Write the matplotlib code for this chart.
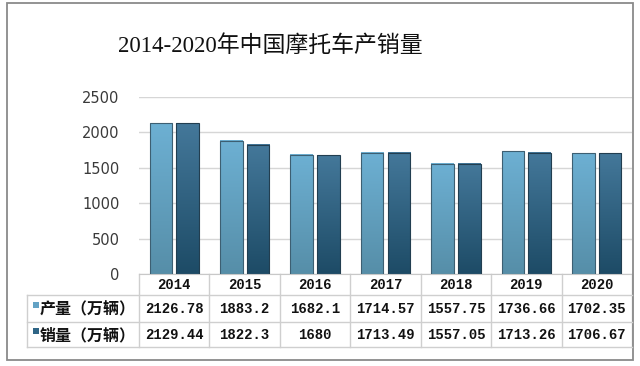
import numpy as np
import matplotlib
matplotlib.use('Agg')
import matplotlib.pyplot as plt
from matplotlib.colors import LinearSegmentedColormap
from matplotlib.patches import Rectangle
import matplotlib.transforms as mtrans

# 数据
years = ['2014', '2015', '2016', '2017', '2018', '2019', '2020']
production = [2126.78, 1883.2, 1682.1, 1714.57, 1557.75, 1736.66, 1702.35]
sales = [2129.44, 1822.3, 1680, 1713.49, 1557.05, 1713.26, 1706.67]
prod_labels = ['2126.78', '1883.2', '1682.1', '1714.57', '1557.75', '1736.66', '1702.35']
sales_labels = ['2129.44', '1822.3', '1680', '1713.49', '1557.05', '1713.26', '1706.67']
row_names = ['产量（万辆）', '销量（万辆）']
yticks = [0, 500, 1000, 1500, 2000, 2500]

W, H = 640, 366
fig = plt.figure(figsize=(W / 100, H / 100), dpi=100)
fig.patch.set_facecolor('white')

def fx(px):
    return px / W

def fy(py):
    return 1 - py / H

# 外框
fig.add_artist(Rectangle((fx(7), fy(360)), fx(626), 357 / H, transform=fig.transFigure,
                         fill=False, edgecolor='#8a8a8a', linewidth=1.3))

fig.text(fx(270), fy(46), '2014-2020年中国摩托车产销量', ha='center', va='center',
         fontsize=16.5, family=['Liberation Serif', 'Noto Sans CJK SC'], color='#111111')

ax = fig.add_axes([fx(139), fy(274), fx(632 - 139), (274 - 97) / H])
ax.set_xlim(-0.5, 6.5)
ax.set_ylim(0, 2500)
ax.set_yticks(yticks)
ax.set_yticklabels([str(t) for t in yticks], fontsize=10.5, color='#3a3a3a',
                   family='DejaVu Sans')
ax.tick_params(axis='y', length=0, pad=14)
ax.tick_params(axis='x', length=0, labelbottom=False)
ax.set_xticks([])
for s in ['left', 'right', 'top']:
    ax.spines[s].set_visible(False)
ax.spines['bottom'].set_color('#c8c8c8')
ax.grid(axis='y', color='#d6d6d6', linewidth=1)
ax.set_axisbelow(True)

light = LinearSegmentedColormap.from_list('light', ['#568ea8', '#6db0d3'])
dark = LinearSegmentedColormap.from_list('dark', ['#1d4b66', '#44789a'])
grad = np.linspace(0, 1, 256).reshape(-1, 1)

x = np.arange(len(years))
bw = 0.32
for xi, v in zip(x - 0.19, production):
    ax.imshow(grad, extent=[xi - bw / 2, xi + bw / 2, 0, v], origin='lower',
              aspect='auto', cmap=light, zorder=2)
    ax.bar(xi, v, bw, facecolor='none', edgecolor='#3d5f72', linewidth=0.8, zorder=3)
for xi, v in zip(x + 0.19, sales):
    ax.imshow(grad, extent=[xi - bw / 2, xi + bw / 2, 0, v], origin='lower',
              aspect='auto', cmap=dark, zorder=2)
    ax.bar(xi, v, bw, facecolor='none', edgecolor='#223e50', linewidth=0.8, zorder=3)
ax.set_xlim(-0.5, 6.5)
ax.set_ylim(0, 2500)

# 数据表
tr = mtrans.blended_transform_factory(ax.transData, fig.transFigure)
lc = '#cfcfcf'
for yy in [295, 322, 347]:
    fig.add_artist(plt.Line2D([fx(27), fx(632)], [fy(yy), fy(yy)], transform=fig.transFigure,
                              color=lc, linewidth=1))
fig.add_artist(plt.Line2D([fx(27), fx(27)], [fy(295), fy(347)], transform=fig.transFigure,
                          color=lc, linewidth=1))
for b in np.arange(-0.5, 7, 1):
    ax.plot([b, b], [fy(274), fy(347)], transform=tr, color=lc, linewidth=1, clip_on=False)

mono = 'Liberation Mono'
for i in range(len(years)):
    ax.text(i, fy(285), years[i], transform=tr, ha='center', va='center',
            fontsize=10, fontweight='bold', family=mono, color='#111111')
    ax.text(i, fy(309), prod_labels[i], transform=tr, ha='center', va='center',
            fontsize=10, fontweight='bold', family=mono, color='#111111')
    ax.text(i, fy(335), sales_labels[i], transform=tr, ha='center', va='center',
            fontsize=10, fontweight='bold', family=mono, color='#111111')

for name, yy, col in [(row_names[0], 309, '#63a2c4'), (row_names[1], 335, '#2f6586')]:
    fig.add_artist(Rectangle((fx(33), fy(yy - 1)), fx(6), 6 / H, transform=fig.transFigure,
                             facecolor=col, edgecolor='none'))
    fig.text(fx(40), fy(yy), name, ha='left', va='center', fontsize=11.5,
             fontweight='bold', family=['Noto Sans CJK SC'], color='#111111')

plt.savefig('out.png', dpi=100)
